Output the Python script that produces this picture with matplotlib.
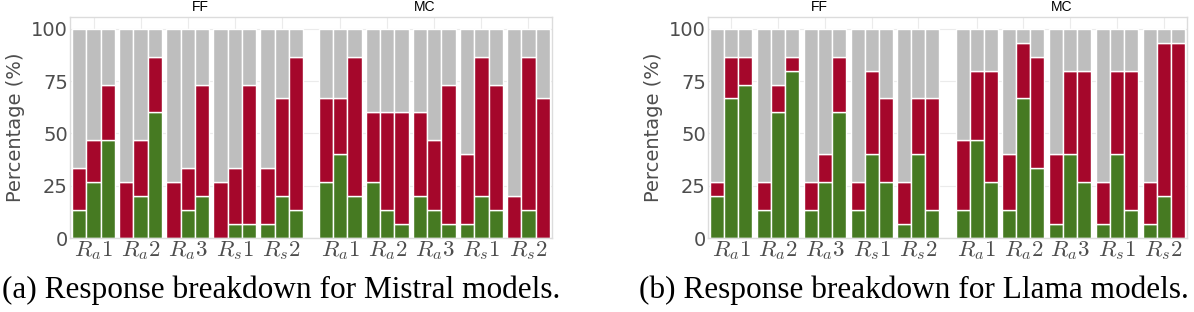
import matplotlib
matplotlib.use("Agg")
import matplotlib.pyplot as plt
import numpy as np

plt.rcParams['mathtext.fontset'] = 'cm'

groups = ["$R_a1$", "$R_a2$", "$R_a3$", "$R_s1$", "$R_s2$"]
sections = ["FF", "MC"]

# green (bottom) and red-top (cumulative green+red) per bar, percent
# Mistral: 10 groups (FF 5 then MC 5), 3 bars each
mistral_green = [
    [13.3, 26.7, 46.7], [0, 20.0, 60.0], [0, 13.3, 20.0], [0, 6.7, 6.7], [6.7, 20.0, 13.3],
    [26.7, 40.0, 20.0], [26.7, 13.3, 6.7], [20.0, 13.3, 6.7], [6.7, 20.0, 13.3], [0, 13.3, 0],
]
mistral_top = [
    [33.3, 46.7, 73.3], [26.7, 46.7, 86.7], [26.7, 33.3, 73.3], [26.7, 33.3, 73.3], [33.3, 66.7, 86.7],
    [66.7, 66.7, 86.7], [60.0, 60.0, 60.0], [60.0, 46.7, 73.3], [40.0, 86.7, 73.3], [20.0, 86.7, 66.7],
]
llama_green = [
    [20.0, 66.7, 73.3], [13.3, 60.0, 80.0], [13.3, 26.7, 60.0], [13.3, 40.0, 26.7], [6.7, 40.0, 13.3],
    [13.3, 46.7, 26.7], [13.3, 66.7, 33.3], [6.7, 40.0, 26.7], [6.7, 40.0, 13.3], [6.7, 20.0, 0],
]
llama_top = [
    [26.7, 86.7, 86.7], [26.7, 73.3, 86.7], [26.7, 40.0, 86.7], [26.7, 80.0, 66.7], [26.7, 66.7, 66.7],
    [46.7, 80.0, 80.0], [40.0, 93.3, 86.7], [40.0, 80.0, 80.0], [26.7, 80.0, 80.0], [26.7, 93.3, 93.3],
]

captions = ["(a) Response breakdown for Mistral models.",
            "(b) Response breakdown for Llama models."]

GRAY = "#bebebe"
RED = "#a5072b"
GREEN = "#467a22"
TXT = "#4d4d4d"

W, H = 1194, 312
fig = plt.figure(figsize=(W / 100, H / 100), dpi=100)

def px_axes(l, r, t, b):
    return fig.add_axes([l / W, 1 - b / H, (r - l) / W, (b - t) / H])

ax_specs = [
    (70, 552, mistral_green, mistral_top, (0.27, 0.735)),
    (708, 1187, llama_green, llama_top, (0.232, 0.739)),
]

centers = np.array([0, 1, 2, 3, 4, 5.25, 6.25, 7.25, 8.25, 9.25])
width = 0.3
offsets = [-0.3, 0.0, 0.3]

for i, (l, r, green, top, tpos) in enumerate(ax_specs):
    ax = px_axes(l, r, 17, 238)
    g = np.array(green)
    t = np.array(top)
    for j, off in enumerate(offsets):
        x = centers + off
        ax.bar(x, g[:, j], width, color=GREEN, edgecolor="white", linewidth=1.0, zorder=2)
        ax.bar(x, t[:, j] - g[:, j], width, bottom=g[:, j], color=RED, edgecolor="white", linewidth=1.0, zorder=2)
        ax.bar(x, 100 - t[:, j], width, bottom=t[:, j], color=GRAY, edgecolor="white", linewidth=1.0, zorder=2)
    ax.set_xlim(-0.5, 9.75)
    ax.set_ylim(0, 105.6)
    ax.set_yticks([0, 25, 50, 75, 100])
    ax.set_xticks(centers)
    ax.set_xticklabels(groups * 2)
    ax.tick_params(axis='both', length=0, colors=TXT)
    ax.tick_params(axis='y', labelsize=14, pad=1.5)
    ax.tick_params(axis='x', labelsize=16.5, pad=0.5)
    ax.set_ylabel("Percentage (%)", fontsize=14, color=TXT, labelpad=4)
    ax.grid(True, color="#ebebeb", linewidth=0.8, zorder=0)
    ax.set_axisbelow(True)
    for s in ax.spines.values():
        s.set_color("#dcdcdc")
        s.set_linewidth(1.0)
    for name, xp in zip(sections, tpos):
        ax.text(xp, 1.012, name, transform=ax.transAxes, ha="center", va="bottom",
                fontsize=10, family="Liberation Sans", color="black")

fig.text(281 / W, 1 - 290 / H, captions[0], ha="center", va="center",
         fontsize=22.5, family="Liberation Serif", color="black")
fig.text(914 / W, 1 - 290 / H, captions[1], ha="center", va="center",
         fontsize=22.5, family="Liberation Serif", color="black")

fig.savefig("out.png", dpi=100)
